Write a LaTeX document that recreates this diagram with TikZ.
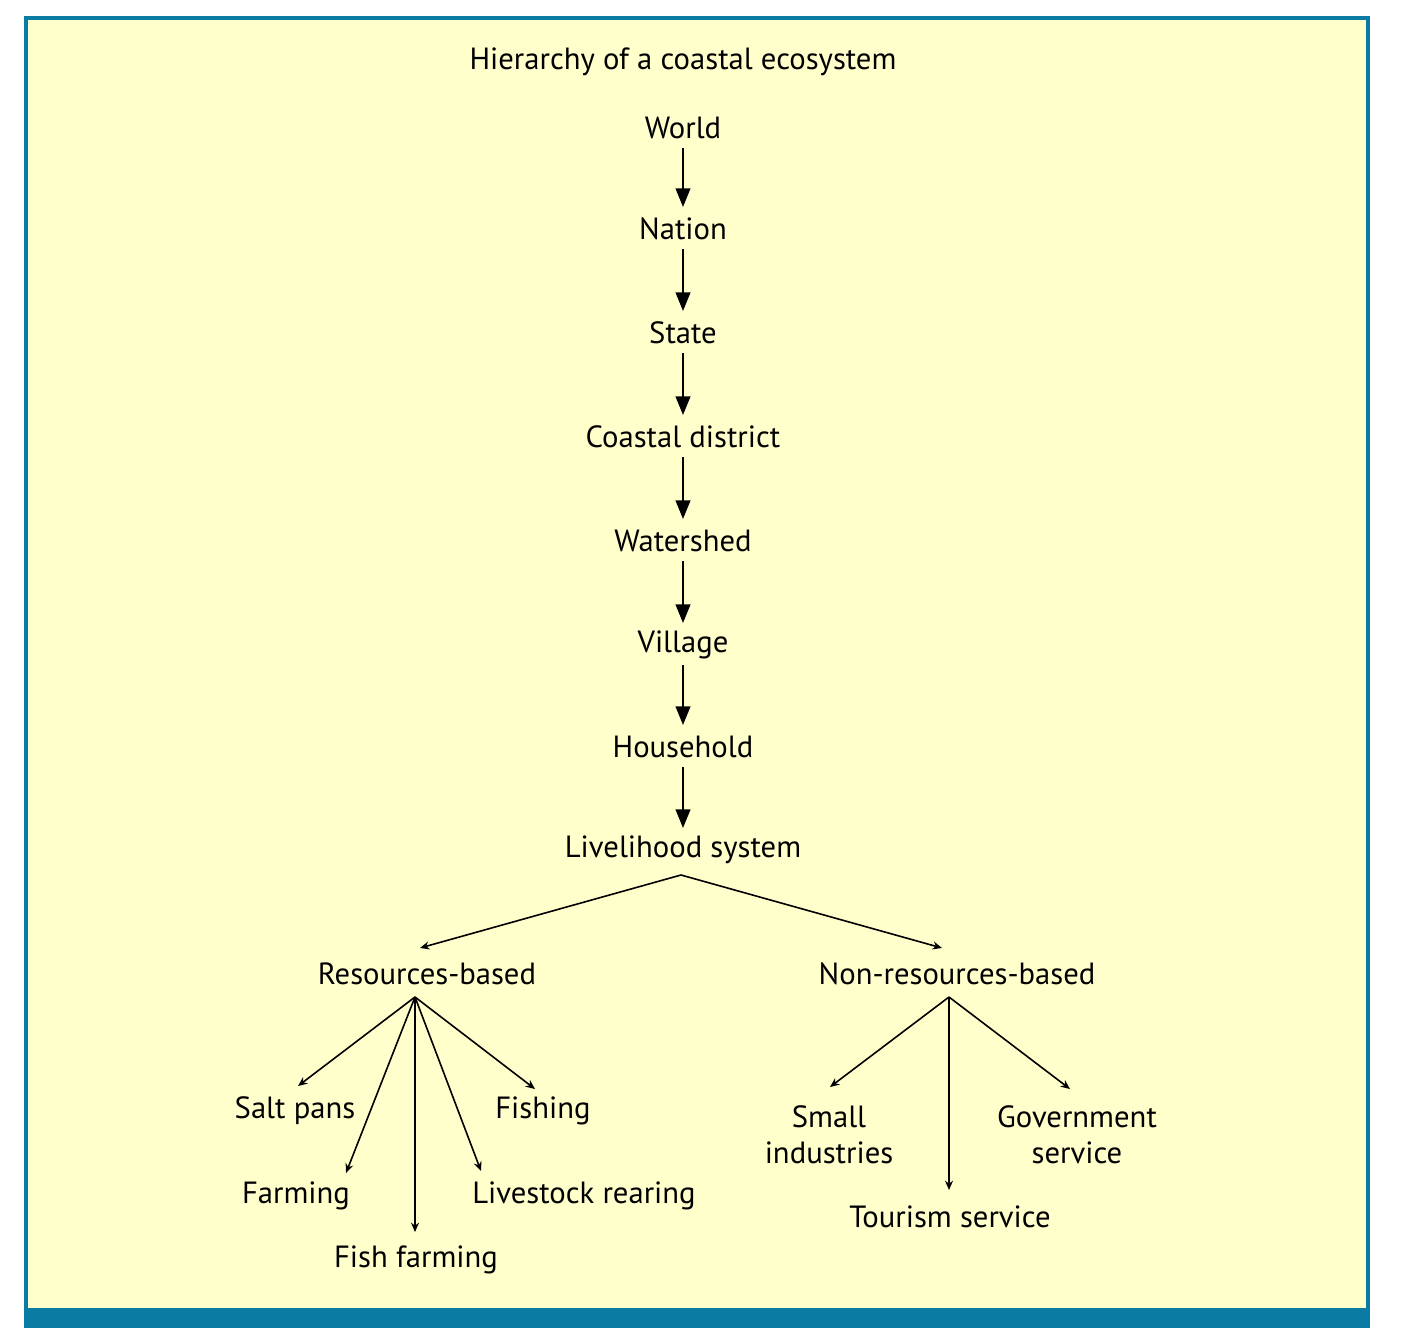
\documentclass[tikz,border=0pt]{standalone}
\usepackage{fontspec}
\setmainfont{PT Sans}
\usetikzlibrary{arrows.meta}
\definecolor{frameblue}{HTML}{0A7BA3}
\definecolor{bgyellow}{HTML}{FFFFCC}
\begin{document}
\begin{tikzpicture}[x=0.75pt,y=-0.75pt,
  lbl/.style={font=\fontsize{23}{27}\selectfont,align=center,inner sep=0pt},
  chain/.style={line width=1.6pt,-{Triangle[length=14pt,width=11pt]}},
  branch/.style={line width=1.2pt,-{Stealth[length=7pt,width=6pt]}}]
\useasboundingbox (0,0) rectangle (1407,1328);
\fill[frameblue] (24,16) rectangle (1370,1328);
\fill[bgyellow] (28,20) rectangle (1366,1308);
\node[lbl] (t) at (683,62) {Hierarchy of a coastal ecosystem};
\node[lbl] (w) at (683,128) {World};
\node[lbl] (n) at (683,229) {Nation};
\node[lbl] (s) at (683,333) {State};
\node[lbl] (c) at (683,437) {Coastal district};
\node[lbl] (ws) at (683,541) {Watershed};
\node[lbl] (v) at (683,645) {Village};
\node[lbl] (h) at (683,747) {Household};
\node[lbl] (l) at (683,850) {Livelihood system};
\foreach \a/\b in {w/n,n/s,s/c,c/ws,ws/v,v/h,h/l}
  \draw[chain] ([yshift=-0.75*20pt]\a.center) -- ([yshift=0.75*22pt]\b.center);
\node[lbl] (r) at (427,974) {Resources-based};
\node[lbl] (nr) at (957,974) {Non-resources-based};
\coordinate (lh) at (681,875);
\draw[branch] (lh) -- (420,948);
\draw[branch] (lh) -- (942,948);
\node[lbl] (sp) at (295,1111) {Salt pans};
\node[lbl] (fa) at (296,1196) {Farming};
\node[lbl] (ff) at (416,1260) {Fish farming};
\node[lbl] (lr) at (584,1196) {Livestock rearing};
\node[lbl] (fi) at (543,1111) {Fishing};
\coordinate (rh) at (415,997);
\draw[branch] (rh) -- (298,1086);
\draw[branch] (rh) -- (346,1173);
\draw[branch] (rh) -- (415,1232);
\draw[branch] (rh) -- (481,1171);
\draw[branch] (rh) -- (535,1089);
\node[lbl] (si) at (829,1135) {Small\\industries};
\node[lbl] (ts) at (950,1217) {Tourism service};
\node[lbl] (gs) at (1077,1135) {Government\\service};
\coordinate (nh) at (949,997);
\draw[branch] (nh) -- (830,1087);
\draw[branch] (nh) -- (949,1190);
\draw[branch] (nh) -- (1070,1089);
\end{tikzpicture}
\end{document}
